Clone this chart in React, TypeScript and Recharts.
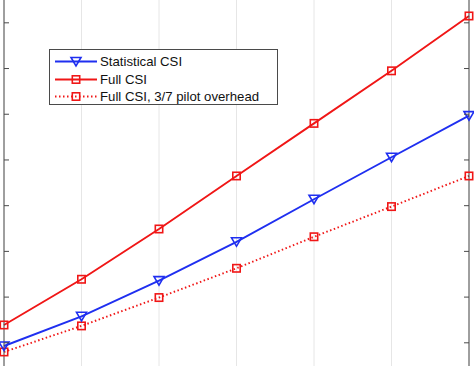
import React from "react";
import { LineChart, Line, XAxis, YAxis, CartesianGrid } from "recharts";

// ── Data ─────────────────────────────────────────────────────────────────────

const xValues = [1, 2, 3, 4, 5, 6, 7];
const statisticalCsi = [0.93, 1.58, 2.36, 3.21, 4.14, 5.06, 5.97];
const fullCsi = [1.39, 2.39, 3.49, 4.65, 5.8, 6.95, 8.15];
const fullCsiPilot = [0.8, 1.37, 1.99, 2.63, 3.32, 3.98, 4.65];

const xTicks = [1, 2, 3, 4, 5, 6, 7];
const yTicks = [1, 2, 3, 4, 5, 6, 7, 8];

const data = xValues.map((x, i) => ({
  x,
  stat: statisticalCsi[i],
  full: fullCsi[i],
  pilot: fullCsiPilot[i],
}));

const BLUE = "#1f2ff0";
const RED = "#f01616";
const AXIS = "#4a4a4a";
const GRID = "#e6e6e6";
const FONT = "'Liberation Sans', Arial, Helvetica, sans-serif";
const TICK_LEN = 5;

// ── Markers ──────────────────────────────────────────────────────────────────

const TriangleDown = (props: any) => {
  const { cx, cy } = props;
  if (cx == null || cy == null) return null;
  return (
    <path
      d={`M${cx - 5},${cy - 4} L${cx + 5},${cy - 4} L${cx},${cy + 4.5} Z`}
      fill="none"
      stroke={BLUE}
      strokeWidth={1.6}
    />
  );
};

const Square = (props: any) => {
  const { cx, cy } = props;
  if (cx == null || cy == null) return null;
  return (
    <rect x={cx - 3.7} y={cy - 3.7} width={7.4} height={7.4} fill="none" stroke={RED} strokeWidth={1.6} />
  );
};

// inward ticks, MATLAB style
const LeftTick = ({ x, y }: any) => <line x1={x} y1={y} x2={x + TICK_LEN} y2={y} stroke={AXIS} strokeWidth={1} />;
const RightTick = ({ x, y }: any) => <line x1={x} y1={y} x2={x - TICK_LEN} y2={y} stroke={AXIS} strokeWidth={1} />;
const TopTick = ({ x, y }: any) => <line x1={x} y1={y} x2={x} y2={y + TICK_LEN} stroke={AXIS} strokeWidth={1} />;
const BottomTick = ({ x, y }: any) => <line x1={x} y1={y} x2={x} y2={y - TICK_LEN} stroke={AXIS} strokeWidth={1} />;

// ── Legend ───────────────────────────────────────────────────────────────────

const legendItems = [
  { label: "Statistical CSI", color: BLUE, dashed: false, marker: "tri" },
  { label: "Full CSI", color: RED, dashed: false, marker: "sq" },
  { label: "Full CSI, 3/7 pilot overhead", color: RED, dashed: true, marker: "sq" },
];

function LegendBox() {
  return (
    <div
      style={{
        position: "absolute",
        left: 49,
        top: 49,
        width: 229,
        height: 56,
        border: `1px solid ${AXIS}`,
        background: "#fff",
        boxSizing: "border-box",
      }}
    >
      {legendItems.map((it, i) => (
        <div
          key={it.label}
          style={{ position: "absolute", left: 4, top: 3 + i * 17.5, height: 17, display: "flex", alignItems: "center" }}
        >
          <svg width={44} height={17}>
            <line
              x1={1}
              y1={8.5}
              x2={43}
              y2={8.5}
              stroke={it.color}
              strokeWidth={1.8}
              strokeDasharray={it.dashed ? "1.5 2.5" : undefined}
            />
            {it.marker === "tri" ? (
              <TriangleDown cx={22} cy={8.5} />
            ) : (
              <Square cx={22} cy={8.5} />
            )}
          </svg>
          <span style={{ fontFamily: FONT, fontSize: 13.2, color: "#111", marginLeft: 2, whiteSpace: "nowrap" }}>
            {it.label}
          </span>
        </div>
      ))}
    </div>
  );
}

// ── Component ────────────────────────────────────────────────────────────────

export default function App() {
  return (
    <div style={{ position: "absolute", left: 0, top: 0, width: 474, height: 366, overflow: "hidden", background: "#fff" }}>
      <div style={{ position: "absolute", left: 0, top: -2 }}>
        <LineChart width={474} height={370} data={data} margin={{ top: 0, right: 4, bottom: 0, left: 3 }}>
          <CartesianGrid stroke={GRID} strokeWidth={1} />
          <XAxis
            xAxisId="b"
            dataKey="x"
            type="number"
            domain={[1, 7]}
            ticks={xTicks}
            height={0}
            tickSize={0}
            tickMargin={0}
            tickLine={false}
            tick={BottomTick}
            axisLine={{ stroke: AXIS }}
          />
          <XAxis
            xAxisId="t"
            orientation="top"
            dataKey="x"
            type="number"
            domain={[1, 7]}
            ticks={xTicks}
            height={0}
            tickSize={0}
            tickMargin={0}
            tickLine={false}
            tick={TopTick}
            axisLine={{ stroke: AXIS }}
          />
          <YAxis
            yAxisId="l"
            type="number"
            domain={[0.449, 8.543]}
            allowDataOverflow
            ticks={yTicks}
            width={1}
            tickSize={0}
            tickMargin={0}
            tickLine={false}
            tick={LeftTick}
            axisLine={{ stroke: AXIS }}
          />
          <YAxis
            yAxisId="r"
            orientation="right"
            type="number"
            domain={[0.449, 8.543]}
            allowDataOverflow
            ticks={yTicks}
            width={1}
            tickSize={0}
            tickMargin={0}
            tickLine={false}
            tick={RightTick}
            axisLine={{ stroke: AXIS }}
          />
          <Line
            xAxisId="b"
            yAxisId="l"
            dataKey="pilot"
            type="linear"
            stroke={RED}
            strokeWidth={1.9}
            strokeDasharray="1.5 2.5"
            dot={<Square />}
            isAnimationActive={false}
          />
          <Line
            xAxisId="b"
            yAxisId="l"
            dataKey="stat"
            type="linear"
            stroke={BLUE}
            strokeWidth={1.9}
            dot={<TriangleDown />}
            isAnimationActive={false}
          />
          <Line
            xAxisId="b"
            yAxisId="l"
            dataKey="full"
            type="linear"
            stroke={RED}
            strokeWidth={1.9}
            dot={<Square />}
            isAnimationActive={false}
          />
        </LineChart>
      </div>
      <LegendBox />
    </div>
  );
}
